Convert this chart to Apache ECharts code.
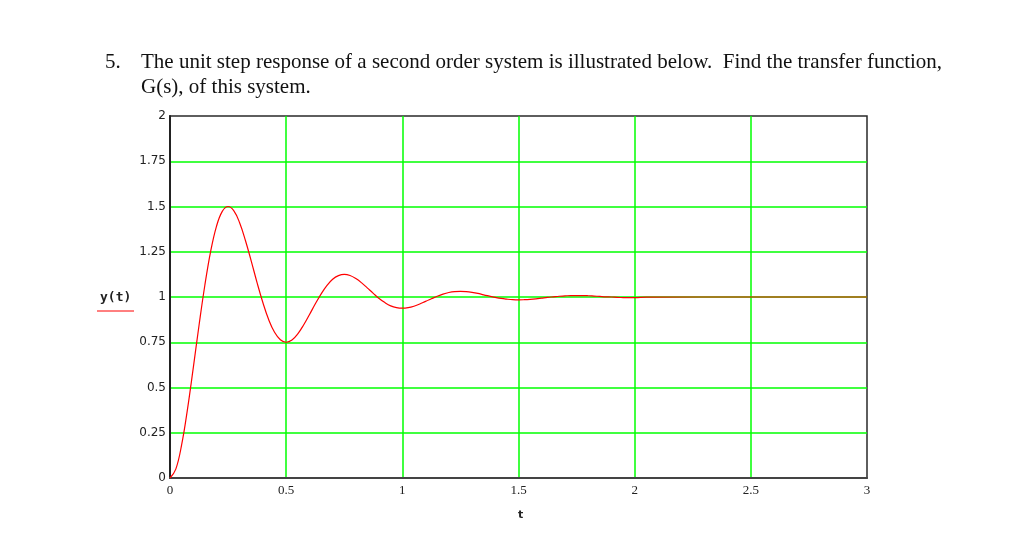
<!DOCTYPE html>
<html>
<head>
<meta charset="utf-8">
<script src="https://cdn.jsdelivr.net/npm/echarts@6/dist/echarts.min.js"></script>
<style>
html,body{margin:0;padding:0;background:#fff;}
#chart{width:1024px;height:552px;}
</style>
</head>
<body>
<div id="chart"></div>
<script>
// Values
var tValues = [0,0.025,0.05,0.075,0.1,0.125,0.15,0.175,0.2,0.225,0.25,0.275,0.3,0.325,0.35,0.375,0.4,0.425,0.45,0.475,0.5,0.525,0.55,0.575,0.6,0.625,0.65,0.675,0.7,0.725,0.75,0.775,0.8,0.825,0.85,0.875,0.9,0.925,0.95,0.975,1.0,1.025,1.05,1.075,1.1,1.125,1.15,1.175,1.2,1.225,1.25,1.275,1.3,1.325,1.35,1.375,1.4,1.425,1.45,1.475,1.5,1.525,1.55,1.575,1.6,1.625,1.65,1.675,1.7,1.725,1.75,1.775,1.8,1.825,1.85,1.875,1.9,1.925,1.95,1.975,2.0,2.05,2.5,3.0];
var yValues = [0,0.049,0.183,0.378,0.607,0.844,1.065,1.252,1.390,1.473,1.5,1.476,1.409,1.311,1.197,1.078,0.968,0.874,0.805,0.764,0.75,0.762,0.796,0.845,0.902,0.961,1.016,1.063,1.098,1.118,1.125,1.119,1.102,1.078,1.049,1.020,0.992,0.969,0.951,0.941,0.938,0.941,0.949,0.961,0.976,0.990,1.004,1.016,1.025,1.030,1.031,1.030,1.026,1.020,1.012,1.005,0.998,0.992,0.988,0.985,0.984,0.985,0.987,0.990,0.994,0.998,1.001,1.004,1.006,1.008,1.008,1.008,1.007,1.005,1.003,1.001,1.000,0.998,0.997,0.996,0.996,0.999,1.0,1.0];
var xTicks = ['0','0.5','1','1.5','2','2.5','3'];
var yTicks = ['0','0.25','0.5','0.75','1','1.25','1.5','1.75','2'];

var seriesData = tValues.map(function(t,i){return [t,yValues[i]];});

var chart = echarts.init(document.getElementById('chart'));
chart.setOption({
  animation:false,
  backgroundColor:'#fff',
  grid:{left:170,right:157,top:116,bottom:74,show:true,borderColor:'#2a2a2a',borderWidth:1.5,backgroundColor:'transparent'},
  xAxis:{
    type:'value',min:0,max:3,interval:0.5,
    axisLine:{show:true,lineStyle:{color:'#444',width:2}},
    axisTick:{show:false},
    splitLine:{show:true,showMinLine:false,showMaxLine:false,lineStyle:{color:'#00ff00',width:1.5}},
    axisLabel:{color:'#222',fontFamily:'Liberation Serif',fontSize:13,margin:6,
      formatter:function(v){var i=Math.round(v/0.5);return xTicks[i]!==undefined?xTicks[i]:'';}}
  },
  yAxis:{
    type:'value',min:0,max:2,interval:0.25,
    axisLine:{show:true,lineStyle:{color:'#222',width:2}},
    axisTick:{show:false},
    splitLine:{show:true,showMinLine:false,showMaxLine:false,lineStyle:{color:'#00ff00',width:1.5}},
    axisLabel:{color:'#222',fontFamily:'DejaVu Sans',fontSize:12,margin:4,
      formatter:function(v){var i=Math.round(v/0.25);return yTicks[i]!==undefined?yTicks[i]:'';}}
  },
  series:[{
    type:'line',data:seriesData,showSymbol:false,smooth:0.4,
    lineStyle:{color:'#ff0000',width:1.2},z:5
  }],
  graphic:[
    {type:'text',left:105,top:52,style:{text:'5.',font:'21px "Liberation Serif"',fill:'#111'}},
    {type:'text',left:141,top:52,style:{text:'The unit step response of a second order system is illustrated below.  Find the transfer function,',font:'21px "Liberation Serif"',fill:'#111'}},
    {type:'text',left:141,top:77,style:{text:'G(s), of this system.',font:'21px "Liberation Serif"',fill:'#111'}},
    {type:'text',left:100,top:291,style:{text:'y(t)',font:'bold 13px "DejaVu Sans Mono"',fill:'#222'}},
    {type:'line',shape:{x1:97,y1:311,x2:134,y2:311},style:{stroke:'#ff0000',lineWidth:1}},
    {type:'text',left:518,top:510,style:{text:'t',font:'bold 11px "DejaVu Sans"',fill:'#222'}}
  ]
});
</script>
</body>
</html>
